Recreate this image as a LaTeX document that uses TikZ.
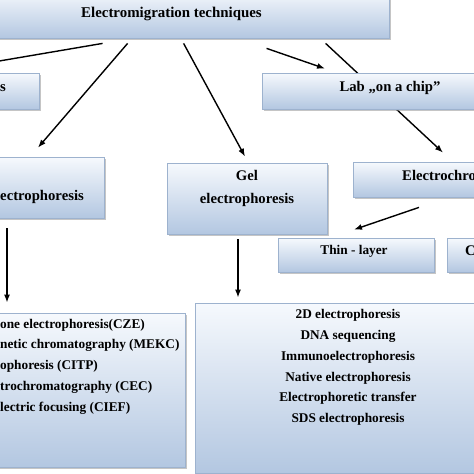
\documentclass[tikz,border=0pt]{standalone}
\usepackage{fontspec}
\setmainfont{Liberation Serif}
\usetikzlibrary{arrows.meta, shadows}
\definecolor{boxtop}{HTML}{F6F9FD}
\definecolor{boxbot}{HTML}{B3C7E1}
\definecolor{boxline}{HTML}{9DB2CE}

\begin{document}
\begin{tikzpicture}[x=1pt, y=-1pt,
    techbox/.style={rectangle, draw=boxline, line width=0.8pt, top color=boxtop, bottom color=boxbot,
                    drop shadow={shadow xshift=1.5pt, shadow yshift=-1.5pt, fill=black!45, opacity=0.5}, inner sep=0pt},
    boxtext/.style={font=\fontsize{14.7}{23}\selectfont\bfseries, inner sep=0pt, align=center},
    listtext/.style={font=\fontsize{13.3}{20.7}\selectfont\bfseries, inner sep=0pt},
    link/.style={line width=1.4pt, -{Latex[length=8pt, width=6pt]}},
  ]
    \fill[white] (0,0) rectangle (474,474);
    \useasboundingbox (0,0) rectangle (474,474);
    \clip (0,0) rectangle (474,474);

    % boxes
    \node[techbox, minimum width=435pt, minimum height=48pt] (emt) at (171.5,14) {};
    \node[boxtext, font=\fontsize{14.9}{18}\selectfont\bfseries] (emtlabel) at (171.5,14) {Electromigration techniques};
    \node[techbox, minimum width=139pt, minimum height=36pt] (meth) at (-30.5,91) {};
    \node[boxtext, anchor=east] (methlabel) at (6,88) {s};
    \node[techbox, minimum width=210pt, minimum height=61pt] (ce) at (-1,187.5) {};
    \node[boxtext, anchor=east] (celabel) at (84,197) {ectrophoresis};
    \node[techbox, minimum width=160pt, minimum height=71pt] (gel) at (247,198.5) {};
    \node[boxtext] (gellabel) at (247,188.5) {Gel\\electrophoresis};
    \node[techbox, minimum width=206pt, minimum height=35pt] (echro) at (456,179.5) {};
    \node[boxtext, anchor=west] (echrolabel) at (402,175) {Electrochro};
    \node[techbox, minimum width=156pt, minimum height=34pt] (thin) at (356,255) {};
    \node[boxtext, font=\fontsize{13.3}{16}\selectfont\bfseries] (thinlabel) at (354,251) {Thin - layer};
    \node[techbox, minimum width=152pt, minimum height=34pt] (col) at (523,255) {};
    \node[boxtext, anchor=west] (collabel) at (465,251) {C};
    \node[techbox, minimum width=335pt, minimum height=154pt] (caplist) at (17.5,390) {};
    \node[listtext, anchor=west, align=left] (capitems) at (0,366.5)
      {one electrophoresis(CZE)\\netic chromatography (MEKC)\\ophoresis (CITP)\\trochromatography (CEC)\\lectric focusing (CIEF)};
    \node[techbox, minimum width=305pt, minimum height=170pt] (gellist) at (347.5,388) {};
    \node[listtext, align=center] (gelitems) at (348,367.5)
      {2D electrophoresis\\DNA sequencing\\Immunoelectrophoresis\\Native electrophoresis\\Electrophoretic transfer\\SDS electrophoresis};

    % connectors
    \draw[link] ([xshift=149pt, yshift=-5pt]emt.south west) -- ([xshift=-29.5pt, yshift=1.5pt]meth.north);
    \draw[link] ([xshift=174pt, yshift=-5pt]emt.south west) -- ([xshift=39pt, yshift=9pt]ce.north);
    \draw[link] ([xshift=230pt, yshift=-5pt]emt.south west) -- ([xshift=-2pt, yshift=6pt]gel.north);
    \draw[link] ([xshift=372pt, yshift=-5pt]emt.south west) -- ([xshift=-13pt, yshift=9pt]echro.north);
    \draw[link] ([xshift=-37pt, yshift=-10pt]echro.south) -- ([xshift=-2pt, yshift=8pt]thin.north);
    \draw[link] ([xshift=8pt, yshift=-10pt]ce.south) -- ([xshift=-10.5pt, yshift=10pt]caplist.north);
    \draw[link] ([xshift=-9pt, yshift=-5pt]gel.south) -- ([xshift=-109.5pt, yshift=5pt]gellist.north);

    % lab box sits over the line to electrochromatography
    \node[techbox, minimum width=256pt, minimum height=36pt] (lab) at (390,91) {};
    \node[boxtext] (lablabel) at (390,88) {Lab „on a chip”};
    \draw[link] ([xshift=313pt, yshift=-10pt]emt.south west) -- ([xshift=-65pt, yshift=4pt]lab.north);
\end{tikzpicture}
\end{document}
